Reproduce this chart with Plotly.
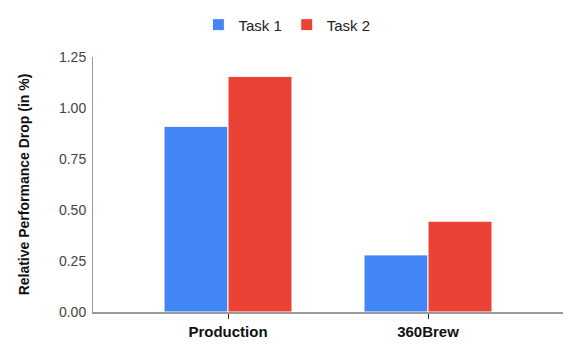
import plotly.graph_objects as go

categories = ["Production", "360Brew"]
category_labels = ["<b>Production</b>", "<b>360Brew</b>"]
task1 = [0.91, 0.28]
task2 = [1.155, 0.445]
y_ticks = [0, 0.25, 0.5, 0.75, 1.0, 1.25]
y_tick_labels = ["0.00", "0.25", "0.50", "0.75", "1.00", "1.25"]

FONT = "Liberation Sans, Arial, sans-serif"

fig = go.Figure()
fig.add_trace(go.Bar(x=categories, y=task1, name="Task 1",
                     marker=dict(color="#4285F4", line=dict(color="white", width=1))))
fig.add_trace(go.Bar(x=categories, y=task2, name="Task 2",
                     marker=dict(color="#EA4335", line=dict(color="white", width=1))))

fig.update_layout(
    width=581, height=360,
    margin=dict(l=85, r=26, t=49, b=56, autoexpand=False),
    paper_bgcolor="white", plot_bgcolor="white",
    barmode="group", bargap=0.36, bargroupgap=0.0,
    font=dict(family=FONT, size=14, color="#222"),
    legend=dict(orientation="h", xref="container", yref="container",
                x=0.48, xanchor="center", y=0.953, yanchor="middle",
                font=dict(size=15, color="#222"), itemwidth=30,
                traceorder="normal"),
    showlegend=True,
)
fig.update_xaxes(
    type="category", range=[-0.675, 1.675], automargin=False,
    showline=True, linecolor="#999999", linewidth=2,
    ticks="outside", ticklen=5, tickcolor="#333333", tickwidth=1,
    tickvals=categories, ticktext=category_labels,
    tickfont=dict(size=15, color="#111", family=FONT),
    showgrid=False,
)
fig.update_yaxes(
    range=[0, 1.25], tickvals=y_ticks, ticktext=y_tick_labels, automargin=False,
    showline=True, linecolor="#999999", linewidth=1,
    showgrid=False, zeroline=False, ticks="", ticklabelstandoff=3,
    tickfont=dict(size=14, color="#444"),
    title=dict(text="<b>Relative Performance Drop (in %)</b>",
               font=dict(size=14, color="#111"), standoff=26),
)

fig.write_html("out.html")
